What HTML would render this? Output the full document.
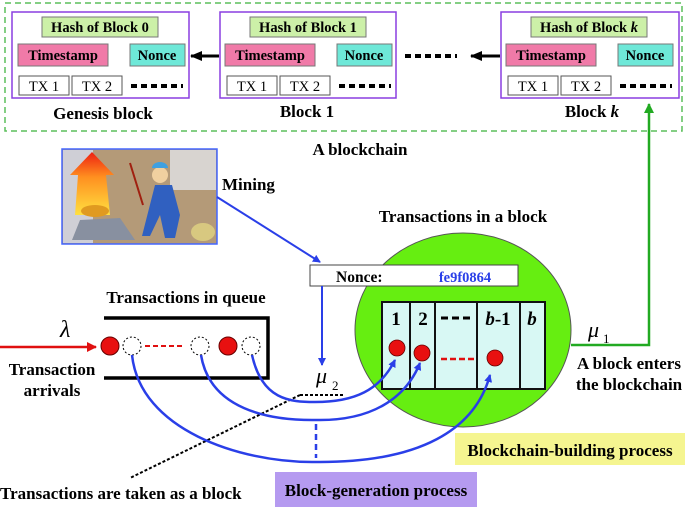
<!DOCTYPE html>
<html><head><meta charset="utf-8"><style>
html,body{margin:0;padding:0;background:#fff;}
svg{display:block;font-family:"Liberation Serif",serif;font-weight:bold;}
</style></head><body>
<svg width="685" height="507" viewBox="0 0 685 507" xmlns="http://www.w3.org/2000/svg">
<defs>
<marker id="ab" markerWidth="8" markerHeight="8" refX="7" refY="4" orient="auto" markerUnits="userSpaceOnUse"><path d="M0,0 L8,4 L0,8 Z" fill="#2a3fe8"/></marker>
<marker id="ak" markerWidth="12" markerHeight="10" refX="11" refY="5" orient="auto" markerUnits="userSpaceOnUse"><path d="M0,0 L12,5 L0,10 Z" fill="#000"/></marker>
<marker id="ar" markerWidth="10" markerHeight="10" refX="9" refY="5" orient="auto" markerUnits="userSpaceOnUse"><path d="M0,0 L10,5 L0,10 Z" fill="#e01010"/></marker>
<marker id="ag" markerWidth="10" markerHeight="10" refX="9" refY="5" orient="auto" markerUnits="userSpaceOnUse"><path d="M0,0 L10,5 L0,10 Z" fill="#22aa22"/></marker>
<linearGradient id="fl" x1="0" y1="1" x2="0" y2="0"><stop offset="0" stop-color="#ffe040"/><stop offset="0.6" stop-color="#ff9020"/><stop offset="1" stop-color="#ee2010"/></linearGradient>
</defs>
<rect x="5" y="3" width="677" height="128" fill="none" stroke="#5cbf5c" stroke-width="1.5" stroke-dasharray="6,4"/>
<g font-size="14.5">
<rect x="12" y="12" width="177" height="86" fill="#fff" stroke="#8a3ee0" stroke-width="1.5"/>
<rect x="42" y="17" width="116" height="20" fill="#ccf0a8" stroke="#777"/>
<text x="100" y="32" text-anchor="middle">Hash of Block 0</text>
<rect x="18" y="44" width="90" height="22" fill="#f07aa8" stroke="#777"/>
<text x="63" y="60" text-anchor="middle">Timestamp</text>
<rect x="130" y="44" width="55" height="22" fill="#6ee8d8" stroke="#777"/>
<text x="157" y="60" text-anchor="middle">Nonce</text>
<rect x="19" y="76" width="50" height="19" fill="#fff" stroke="#555"/><text x="44" y="91" text-anchor="middle" font-weight="normal">TX 1</text>
<rect x="72" y="76" width="50" height="19" fill="#fff" stroke="#555"/><text x="97" y="91" text-anchor="middle" font-weight="normal">TX 2</text>
<line x1="131" y1="86" x2="183" y2="86" stroke="#000" stroke-width="4" stroke-dasharray="6,4"/>
<rect x="220" y="12" width="176" height="86" fill="#fff" stroke="#8a3ee0" stroke-width="1.5"/>
<rect x="250" y="17" width="116" height="20" fill="#ccf0a8" stroke="#777"/>
<text x="308" y="32" text-anchor="middle">Hash of Block 1</text>
<rect x="225" y="44" width="90" height="22" fill="#f07aa8" stroke="#777"/>
<text x="270" y="60" text-anchor="middle">Timestamp</text>
<rect x="337" y="44" width="55" height="22" fill="#6ee8d8" stroke="#777"/>
<text x="364" y="60" text-anchor="middle">Nonce</text>
<rect x="227" y="76" width="50" height="19" fill="#fff" stroke="#555"/><text x="252" y="91" text-anchor="middle" font-weight="normal">TX 1</text>
<rect x="280" y="76" width="50" height="19" fill="#fff" stroke="#555"/><text x="305" y="91" text-anchor="middle" font-weight="normal">TX 2</text>
<line x1="339" y1="86" x2="391" y2="86" stroke="#000" stroke-width="4" stroke-dasharray="6,4"/>
<rect x="501" y="12" width="178" height="86" fill="#fff" stroke="#8a3ee0" stroke-width="1.5"/>
<rect x="531" y="17" width="116" height="20" fill="#ccf0a8" stroke="#777"/>
<text x="589" y="32" text-anchor="middle">Hash of Block <tspan font-style="italic">k</tspan></text>
<rect x="506" y="44" width="90" height="22" fill="#f07aa8" stroke="#777"/>
<text x="551" y="60" text-anchor="middle">Timestamp</text>
<rect x="618" y="44" width="55" height="22" fill="#6ee8d8" stroke="#777"/>
<text x="645" y="60" text-anchor="middle">Nonce</text>
<rect x="508" y="76" width="50" height="19" fill="#fff" stroke="#555"/><text x="533" y="91" text-anchor="middle" font-weight="normal">TX 1</text>
<rect x="561" y="76" width="50" height="19" fill="#fff" stroke="#555"/><text x="586" y="91" text-anchor="middle" font-weight="normal">TX 2</text>
<line x1="620" y1="86" x2="672" y2="86" stroke="#000" stroke-width="4" stroke-dasharray="6,4"/>
</g>
<line x1="219" y1="56" x2="191" y2="56" stroke="#000" stroke-width="3" marker-end="url(#ak)"/>
<line x1="405" y1="56" x2="457" y2="56" stroke="#000" stroke-width="4" stroke-dasharray="6,4"/>
<line x1="500" y1="56" x2="471" y2="56" stroke="#000" stroke-width="3" marker-end="url(#ak)"/>
<g font-size="17">
<text x="103" y="119" text-anchor="middle">Genesis block</text>
<text x="307" y="117" text-anchor="middle">Block 1</text>
<text x="592" y="117" text-anchor="middle">Block <tspan font-style="italic">k</tspan></text>
<text x="360" y="155" text-anchor="middle">A blockchain</text>
<text x="222" y="190">Mining</text>
<text x="463" y="222" text-anchor="middle">Transactions in a block</text>
<text x="186" y="303" text-anchor="middle">Transactions in queue</text>
<text x="52" y="375" text-anchor="middle">Transaction</text>
<text x="52" y="396" text-anchor="middle">arrivals</text>
<text x="629" y="369" text-anchor="middle">A block enters</text>
<text x="629" y="390" text-anchor="middle">the blockchain</text>
</g>
<rect x="62" y="149" width="155" height="95" fill="#b49a78" stroke="#4466ff" stroke-width="1.5"/>
<rect x="63" y="150" width="30" height="93" fill="#cfcfd6"/>
<rect x="170" y="150" width="46" height="40" fill="#d8d4d0"/>
<path d="M75,215 L78,175 L70,175 L92,152 L114,175 L106,175 L110,215 Z" fill="url(#fl)"/>
<ellipse cx="95" cy="211" rx="14" ry="6" fill="#e09a20"/>
<path d="M72,240 L80,220 L120,218 L135,240 Z" fill="#8890a0"/>
<circle cx="160" cy="175" r="8" fill="#f0d0a0"/>
<path d="M152,168 a8,6 0 0 1 16,0 Z" fill="#3fa0e0"/>
<path d="M155,185 L172,185 L180,215 L175,238 L165,238 L160,215 L150,236 L142,236 Z" fill="#3060c0"/>
<line x1="130" y1="163" x2="143" y2="205" stroke="#a02010" stroke-width="2"/>
<ellipse cx="203" cy="232" rx="12" ry="9" fill="#d8c880"/>
<line x1="217" y1="197" x2="320" y2="262" stroke="#2a3fe8" stroke-width="2" marker-end="url(#ab)"/>
<ellipse cx="463" cy="330" rx="108" ry="97" fill="#66ee11" stroke="#555"/>
<rect x="310" y="265" width="208" height="21" fill="#fff" stroke="#444"/>
<text x="336" y="282" font-size="15.5">Nonce:</text>
<text x="465" y="282" font-size="14.5" fill="#2a3fe8" text-anchor="middle">fe9f0864</text>
<line x1="322" y1="286" x2="322" y2="365" stroke="#2a3fe8" stroke-width="2" marker-end="url(#ab)"/>
<text x="316" y="383" font-size="22" font-style="italic" font-weight="normal">μ</text><text x="332" y="390" font-size="13" font-weight="normal">2</text>
<line x1="300" y1="395" x2="345" y2="395" stroke="#000" stroke-width="2" stroke-dasharray="3,2"/>
<line x1="300" y1="395" x2="130" y2="478" stroke="#000" stroke-width="2" stroke-dasharray="3,2"/>
<rect x="382" y="302" width="163" height="87" fill="#d8f8f4" stroke="#111" stroke-width="2"/>
<g stroke="#111" stroke-width="2"><line x1="410" y1="302" x2="410" y2="389"/><line x1="435" y1="302" x2="435" y2="389"/><line x1="477" y1="302" x2="477" y2="389"/><line x1="520" y1="302" x2="520" y2="389"/></g>
<g font-size="19"><text x="396" y="325" text-anchor="middle">1</text><text x="423" y="325" text-anchor="middle">2</text>
<text x="498" y="325" text-anchor="middle"><tspan font-style="italic">b</tspan>-1</text><text x="532" y="325" text-anchor="middle" font-style="italic">b</text></g>
<line x1="441" y1="318" x2="472" y2="318" stroke="#000" stroke-width="3" stroke-dasharray="7,4"/>
<g fill="#e81010" stroke="#600" stroke-width="0.8"><circle cx="397" cy="348" r="8"/><circle cx="422" cy="353" r="8"/><circle cx="495" cy="358" r="8"/></g>
<line x1="441" y1="359" x2="475" y2="359" stroke="#e01010" stroke-width="2.5" stroke-dasharray="6,3"/>
<text x="588" y="337" font-size="22" font-style="italic" font-weight="normal">μ</text><text x="603" y="343" font-size="13" font-weight="normal">1</text>
<polyline points="571,345 649,345 649,104" fill="none" stroke="#22aa22" stroke-width="2.5" marker-end="url(#ag)"/>
<polyline points="104,318 268,318 268,378 104,378" fill="none" stroke="#000" stroke-width="3.5"/>
<text x="60" y="337" font-size="24" font-style="italic" font-weight="normal">λ</text>
<line x1="0" y1="347" x2="96" y2="347" stroke="#e01010" stroke-width="2.5" marker-end="url(#ar)"/>
<g stroke-width="1"><circle cx="110" cy="346" r="9" fill="#e81010" stroke="#600"/>
<circle cx="132" cy="346" r="9" fill="#fff" stroke="#000" stroke-dasharray="2,2"/>
<circle cx="200" cy="346" r="9" fill="#fff" stroke="#000" stroke-dasharray="2,2"/>
<circle cx="228" cy="346" r="9" fill="#e81010" stroke="#600"/>
<circle cx="251" cy="346" r="9" fill="#fff" stroke="#000" stroke-dasharray="2,2"/></g>
<line x1="145" y1="346" x2="184" y2="346" stroke="#e01010" stroke-width="2" stroke-dasharray="5,3"/>
<g fill="none" stroke="#2a3fe8" stroke-width="2.5">
<path d="M252,355 C262,400 290,402 315,402 C355,402 380,390 395,360" marker-end="url(#ab)"/>
<path d="M201,355 C210,410 270,420 312,420 L320,420 C370,420 405,400 420,363" marker-end="url(#ab)"/>
<path d="M132,355 C140,430 240,462 312,462 L320,462 C420,462 475,430 490,375" marker-end="url(#ab)"/>
<line x1="316" y1="424" x2="316" y2="458" stroke-dasharray="6,4"/>
</g>
<text x="0" y="499" font-size="17">Transactions are taken as a block</text>
<rect x="275" y="472" width="202" height="35" fill="#b59af0"/>
<text x="376" y="496" font-size="17" text-anchor="middle">Block-generation process</text>
<rect x="455" y="433" width="230" height="32" fill="#f5f590"/>
<text x="570" y="456" font-size="17" text-anchor="middle">Blockchain-building process</text>
</svg>
</body></html>
